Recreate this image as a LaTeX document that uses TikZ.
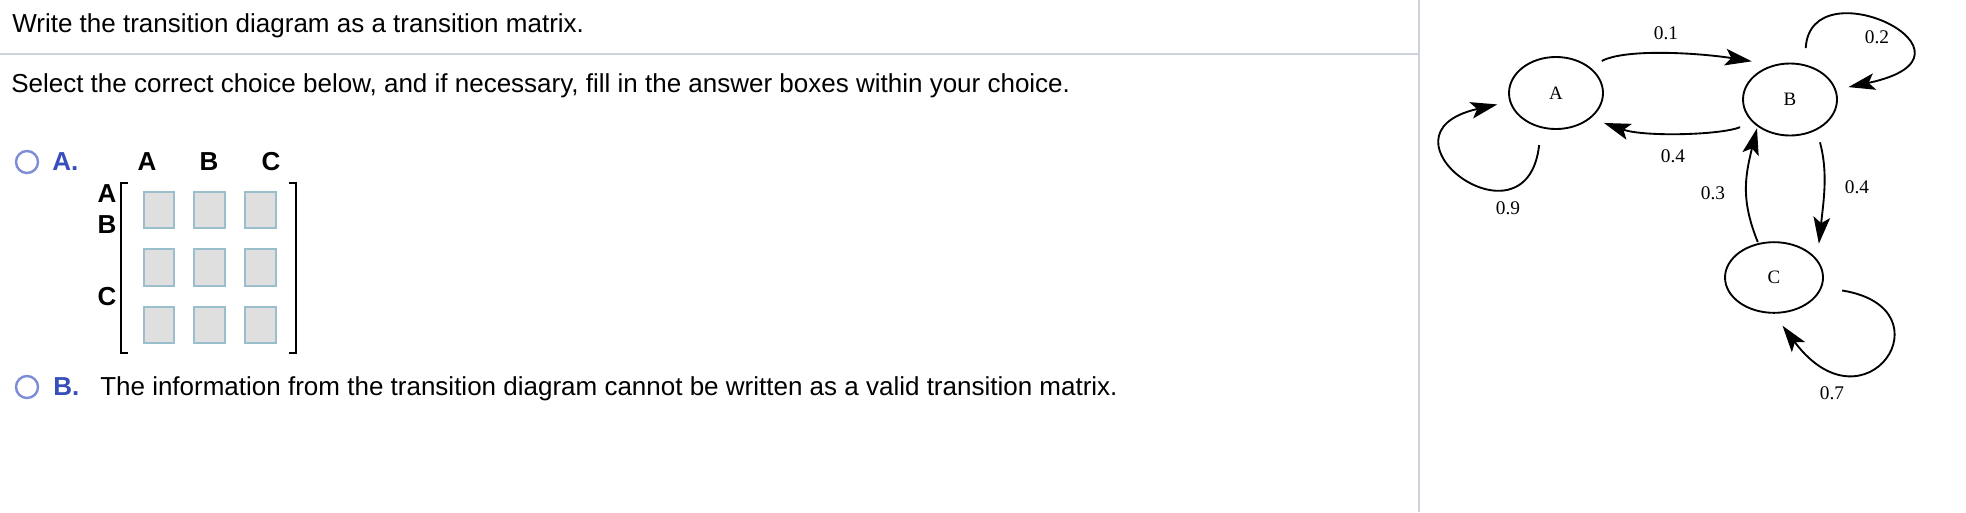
\documentclass[tikz,border=0pt]{standalone}
\usepackage{fontspec}
\setmainfont{Liberation Sans}
\newfontfamily\serifdiag{Liberation Serif}
\usepackage{tikz}
\usetikzlibrary{shapes.geometric,arrows.meta,positioning}
\definecolor{rulegray}{RGB}{205,210,221}
\definecolor{choiceblue}{RGB}{56,78,186}
\definecolor{radioblue}{RGB}{125,140,215}
\definecolor{cellfill}{RGB}{223,223,223}
\definecolor{celledge}{RGB}{155,190,205}
\tikzset
{
    state/.style = {ellipse, draw=black, line width=1.4pt, inner sep=0pt,
                      minimum width=70.5pt, minimum height=54pt, outer sep=10pt,
                      font=\serifdiag\fontsize{14.2}{17}\selectfont},
    trans/.style = {line width=1.4pt,
                      -{Stealth[length=20pt, width=12.5pt, inset=4.5pt]}},
    prob/.style = {font=\serifdiag\fontsize{14.5}{17}\selectfont, inner sep=0pt},
    body/.style = {font=\fontsize{19.5}{23}\selectfont, anchor=base west, inner sep=0pt},
    head/.style = {font=\bfseries\fontsize{19.5}{23}\selectfont, anchor=base, inner sep=0pt},
    choice/.style = {head, text=choiceblue, anchor=base west},
    radio/.style = {circle, draw=radioblue, line width=1.8pt,
                      minimum size=16.5pt, inner sep=0pt},
    cell/.style = {draw=celledge, fill=cellfill, line width=1.4pt,
                      minimum width=23pt, minimum height=27.5pt, inner sep=0pt},
    bracket/.style = {line width=1.3pt},
    divider/.style = {draw=rulegray, line width=1.5pt}
}

\begin{document}
\begin{tikzpicture}[
        % one unit is one pixel of the page, y grows downwards:
        x=0.75pt, y=-0.75pt
      ]
    \fill[white] (0,0) rectangle (1966,512);
    \useasboundingbox (0,0) rectangle (1966,512);

    % question panel
    \draw[divider] (0,54) -- (1419,54);
    \draw[divider] (1419,0) -- (1419,512);
    \node[body] (title) at (12,32) {Write the transition diagram as a transition matrix.};
    \node[body] (prompt) at (11,92) {Select the correct choice below, and if necessary, fill in the answer boxes within your choice.};

    % choice A: the matrix
    \node[radio] (radioA) at (27,162) {};
    \node[choice] (choiceA) at (52,170) {A.};
    \foreach \name/\x in {A/147,B/209,C/271}
        \node[head] (col\name) at (\x,170) {\name};
    \foreach \name/\y in {A/202,B/233,C/305}
        \node[head] (row\name) at (107,\y) {\name};
    \foreach \r/\y in {1/210,2/267.5,3/325}
        \foreach \c/\x in {1/159,2/209.5,3/260.5}
            \node[cell] (cell\r\c) at (\x,\y) {};
    \draw[bracket] (128,183) -| (121,353) -- (128,353);
    \draw[bracket] (289,183) -| (296,353) -- (289,353);

    % choice B
    \node[radio] (radioB) at (27,387) {};
    \node[choice] (choiceB) at (53,395) {B.};
    \node[body] (answerB) at (100,395) {The information from the transition diagram cannot be written as a valid transition matrix.};

    % transition diagram
    \node[state] (A) at (1556,93) {A};
    \node[state] (B) at (1790,99.5) {B};
    \node[state, minimum width=73.5pt, minimum height=53pt] (C) at (1774,277.5) {C};

    \draw[trans] (A.35) .. controls +(25,-13) and +(-50,-8) .. (B.135);
    \draw[trans] (B.209) .. controls +(-20,8) and +(40,14) .. (A.-32);
    \draw[trans, shorten <=3.5pt] (A.251) .. controls +(-13,115) and +(-132,30) .. (A.191);
    \draw[trans, shorten <=2.8pt] (B.72) .. controls +(5,-88) and +(152,-32) .. (B.12);
    \draw[trans, shorten <=-8.5pt, shorten >=-8.5pt] (C.114) .. controls +(-12,-30) and +(-10,40) .. (B.228);
    \draw[trans] (B.-55) .. controls +(8,30) and +(5,-45) .. (C.37);
    \draw[trans, shorten <=5.8pt] (C.-11) .. controls +(118,19) and +(83,111) .. (C.-80);

    \node[prob] (pAB) at (1666,33) {0.1};
    \node[prob] (pBA) at (1673,156) {0.4};
    \node[prob] (pAA) at (1508,208) {0.9};
    \node[prob] (pBB) at (1877,37) {0.2};
    \node[prob] (pCB) at (1713,193) {0.3};
    \node[prob] (pBC) at (1857,187) {0.4};
    \node[prob] (pCC) at (1832,393) {0.7};
\end{tikzpicture}
\end{document}
